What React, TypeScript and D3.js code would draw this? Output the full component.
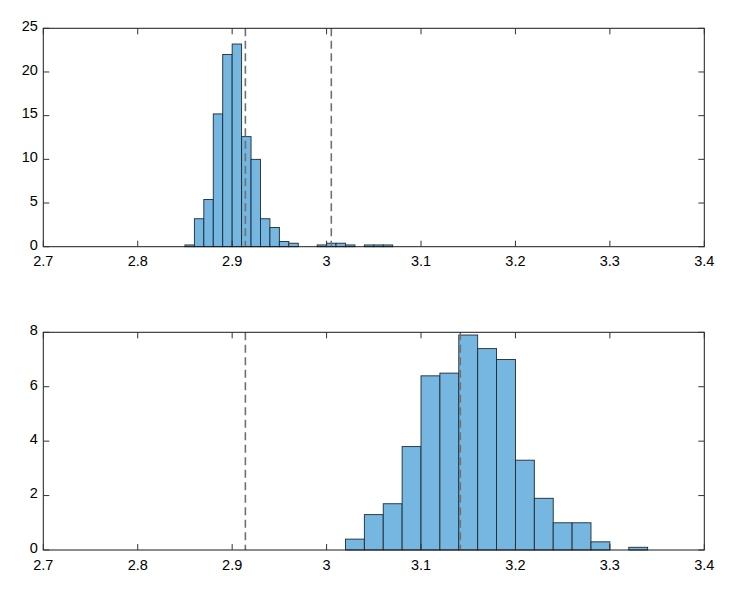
import * as d3 from "d3";

// density values
const topStart = 2.85;
const topBinWidth = 0.01;
const topDensity = [
  0.2, 3.2, 5.4, 15.2, 22.0, 23.2, 12.6, 10.0, 3.2, 2.2, 0.6, 0.4, 0, 0, 0.2,
  0.4, 0.4, 0.2, 0, 0.2, 0.2, 0.2,
];
const topMarkers = [2.914, 3.005];
const topYTicks = [0, 5, 10, 15, 20, 25];

const bottomStart = 3.02;
const bottomBinWidth = 0.02;
const bottomDensity = [
  0.4, 1.3, 1.7, 3.8, 6.4, 6.5, 7.9, 7.4, 7.0, 3.3, 1.9, 1.0, 1.0, 0.3, 0, 0.1,
];
const bottomMarkers = [2.914, 3.1416];
const bottomYTicks = [0, 2, 4, 6, 8];

const xTicks = [2.7, 2.8, 2.9, 3.0, 3.1, 3.2, 3.3, 3.4];
const xDomain: [number, number] = [2.7, 3.4];

const W = 738;
const H = 603;
const left = 43.3;
const right = 704.3;
const font = "'Liberation Sans', Arial, Helvetica, sans-serif";

type PanelProps = {
  top: number;
  bottom: number;
  start: number;
  binWidth: number;
  density: number[];
  markers: number[];
  yTicks: number[];
};

function Panel({ top, bottom, start, binWidth, density, markers, yTicks }: PanelProps) {
  const x = d3.scaleLinear().domain(xDomain).range([left, right]);
  const y = d3
    .scaleLinear()
    .domain([0, yTicks[yTicks.length - 1]])
    .range([bottom, top]);
  const fmt = (v: number) => String(+v.toFixed(1));
  const tickLen = 6;

  const bins = density.map((d, i) => ({
    x0: start + i * binWidth,
    x1: start + (i + 1) * binWidth,
    d,
  }));

  return (
    <g>
      {bins
        .filter((b) => b.d > 0)
        .map((b, i) => (
          <rect
            key={i}
            x={x(b.x0)}
            y={y(b.d)}
            width={x(b.x1) - x(b.x0)}
            height={y(0) - y(b.d)}
            fill="#75b7e0"
            stroke="#1e2a33"
            strokeWidth={0.9}
          />
        ))}
      {markers.map((m, i) => (
        <line
          key={i}
          x1={x(m)}
          x2={x(m)}
          y1={top}
          y2={bottom}
          stroke="#707070"
          strokeWidth={1.6}
          strokeDasharray="8,4.5"
        />
      ))}
      <rect
        x={left}
        y={top}
        width={right - left}
        height={bottom - top}
        fill="none"
        stroke="#1a1a1a"
        strokeWidth={1}
      />
      {xTicks.map((t, i) => (
        <g key={i}>
          <line x1={x(t)} x2={x(t)} y1={bottom} y2={bottom - tickLen} stroke="#333" />
          <line x1={x(t)} x2={x(t)} y1={top} y2={top + tickLen} stroke="#333" />
          <text
            x={x(t)}
            y={bottom + 19.5}
            textAnchor="middle"
            fontFamily={font}
            fontSize={14.5}
            fill="#000"
          >
            {fmt(t)}
          </text>
        </g>
      ))}
      {yTicks.map((t, i) => (
        <g key={i}>
          <line x1={left} x2={left + tickLen} y1={y(t)} y2={y(t)} stroke="#333" />
          <line x1={right} x2={right - tickLen} y1={y(t)} y2={y(t)} stroke="#333" />
          <text
            x={left - 5.5}
            y={y(t) - 1}
            textAnchor="end"
            dominantBaseline="middle"
            fontFamily={font}
            fontSize={14.5}
            fill="#000"
          >
            {t}
          </text>
        </g>
      ))}
    </g>
  );
}

export default function App() {
  return (
    <svg
      width={W}
      height={H}
      style={{ position: "absolute", top: 0, left: 0, background: "#fff" }}
    >
      <Panel
        top={28.3}
        bottom={246.7}
        start={topStart}
        binWidth={topBinWidth}
        density={topDensity}
        markers={topMarkers}
        yTicks={topYTicks}
      />
      <Panel
        top={332.3}
        bottom={550}
        start={bottomStart}
        binWidth={bottomBinWidth}
        density={bottomDensity}
        markers={bottomMarkers}
        yTicks={bottomYTicks}
      />
    </svg>
  );
}
